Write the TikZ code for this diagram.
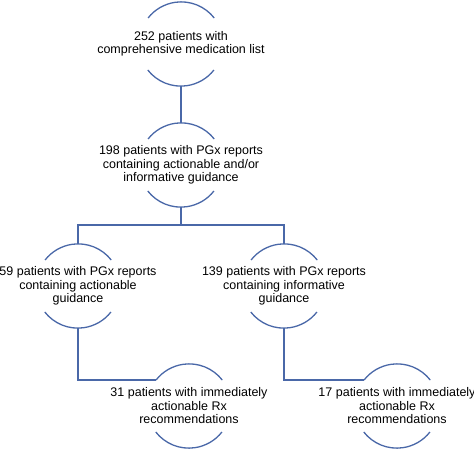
\documentclass[tikz,border=0pt]{standalone}
\usepackage{fontspec}
\setmainfont{Liberation Sans}
\definecolor{linkblue}{HTML}{4A68A8}
\begin{document}
\begin{tikzpicture}[x=1pt,y=1pt,
  hub/.style={circle,minimum size=84pt,inner sep=0pt,draw=none},
  lbl/.style={align=center,font=\fontsize{12.5}{13.5}\selectfont,inner sep=0pt},
  link/.style={draw=linkblue,line width=1.3pt},
]
\useasboundingbox (0,0) rectangle (474,451);
\node[hub] (c1) at (181,407) {};
\node[hub] (c2) at (181,286) {};
\node[hub] (c3) at (78,165) {};
\node[hub] (c4) at (284,165) {};
\node[hub] (c5) at (189,45) {};
\node[hub] (c6) at (397,45) {};
\foreach \n in {c1,c2,c3,c4,c5,c6}{
  \draw[link] (\n.38) arc[start angle=38,end angle=142,radius=42pt];
  \draw[link] (\n.218) arc[start angle=218,end angle=322,radius=42pt];
}
\node[lbl] (t1) at (c1) {252 patients with\\comprehensive medication list};
\node[lbl] (t2) at (c2) {198 patients with PGx reports\\containing actionable and/or\\informative guidance};
\node[lbl] (t3) at (c3) {59 patients with PGx reports\\containing actionable\\guidance};
\node[lbl] (t4) at (c4) {139 patients with PGx reports\\containing informative\\guidance};
\node[lbl] (t5) at (c5) {31 patients with immediately\\actionable Rx\\recommendations};
\node[lbl] (t6) at (c6) {17 patients with immediately\\actionable Rx\\recommendations};
\coordinate (split) at (181,226);
\draw[link] (c1.south) -- (c2.north);
\draw[link] (c2.south) -- (split);
\draw[link] (c3.north) |- (split) -| (c4.north);
\draw[link] (c3.south) |- (c5.142);
\draw[link] (c4.south) |- (c6.142);
\end{tikzpicture}
\end{document}
